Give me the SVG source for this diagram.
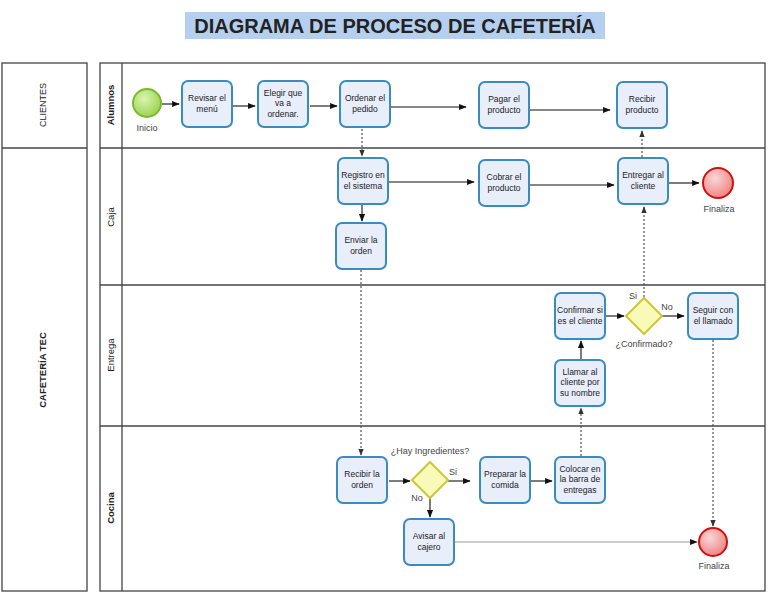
<svg xmlns="http://www.w3.org/2000/svg" width="768" height="601" viewBox="0 0 768 601">
<style>
text{font-family:"Liberation Sans",Arial,sans-serif;fill:#222}
.t rect{fill:#e9eefb;stroke:#3a8cc0;stroke-width:2}
.t text{font-size:8.5px;text-anchor:middle}
.lane{fill:none;stroke:#444;stroke-width:1.3}
.ll{font-size:9.5px;font-weight:bold;text-anchor:middle}
.c{fill:none;stroke:#111;stroke-width:1.1}
.d{fill:none;stroke:#444;stroke-width:1.1;stroke-dasharray:2,2}
.lbl{font-size:9px;text-anchor:middle;fill:#444}
.gw{fill:#fafab8;stroke:#c8c83a;stroke-width:2}
</style>
<defs>
<marker id="a" viewBox="0 0 10 10" refX="9" refY="5" markerWidth="7" markerHeight="7" orient="auto"><path d="M0,1 L10,5 L0,9 z" fill="#111"/></marker>
<marker id="b" viewBox="0 0 10 10" refX="9" refY="5" markerWidth="6" markerHeight="6" orient="auto"><path d="M0,1 L10,5 L0,9 z" fill="#333"/></marker>
<radialGradient id="gs" cx="0.4" cy="0.35" r="0.7"><stop offset="0" stop-color="#d8f5b0"/><stop offset="1" stop-color="#9ad04a"/></radialGradient>
<radialGradient id="ge" cx="0.4" cy="0.35" r="0.7"><stop offset="0" stop-color="#fbd6d6"/><stop offset="1" stop-color="#ee8080"/></radialGradient>
</defs>
<rect x="185" y="12" width="420" height="27" fill="#b4cff0"/>
<text x="395" y="33" font-size="20" font-weight="bold" text-anchor="middle" fill="#1f2a44">DIAGRAMA DE PROCESO DE CAFETERÍA</text>
<g id="pools">
<rect class="lane" x="2" y="63" width="85" height="528"/>
<line class="lane" x1="2" y1="148" x2="87" y2="148"/>
<text class="lbl" style="font-weight:normal;fill:#222" transform="translate(46,105) rotate(-90)" font-size="10">CLIENTES</text>
<text class="ll" transform="translate(46,370) rotate(-90)">CAFETERÍA TEC</text>
<rect class="lane" x="100" y="63" width="665" height="528"/>
<line class="lane" x1="122" y1="63" x2="122" y2="591"/>
<line class="lane" x1="100" y1="148" x2="765" y2="148"/>
<line class="lane" x1="100" y1="285" x2="765" y2="285"/>
<line class="lane" x1="100" y1="426" x2="765" y2="426"/>
<text class="ll" transform="translate(114,105) rotate(-90)">Alumnos</text>
<text class="ll" style="font-weight:normal" transform="translate(114,217) rotate(-90)">Caja</text>
<text class="ll" style="font-weight:normal" transform="translate(114,355) rotate(-90)">Entrega</text>
<text class="ll" transform="translate(114,508) rotate(-90)">Cocina</text>
</g>
<g id="connectors">
<line class="c" x1="162" y1="104" x2="179" y2="104" marker-end="url(#a)"/>
<line class="c" x1="233" y1="106" x2="255" y2="106" marker-end="url(#a)"/>
<line class="c" x1="310" y1="106" x2="337" y2="106" marker-end="url(#a)"/>
<line class="c" x1="391" y1="107" x2="466" y2="107" marker-end="url(#a)"/>
<line class="c" x1="530" y1="110" x2="610" y2="110" marker-end="url(#a)"/>
<line class="d" x1="362" y1="129" x2="362" y2="156" marker-end="url(#b)"/>
<line class="c" x1="389" y1="182" x2="474" y2="182" marker-end="url(#a)"/>
<line class="c" x1="362" y1="205" x2="362" y2="221" marker-end="url(#a)"/>
<line class="c" x1="530" y1="185" x2="614" y2="185" marker-end="url(#a)"/>
<line class="c" x1="669" y1="183" x2="699" y2="183" marker-end="url(#a)"/>
<line class="d" x1="642" y1="157" x2="642" y2="131" marker-end="url(#b)"/>
<line class="d" x1="644" y1="297" x2="644" y2="207" marker-end="url(#b)"/>
<line class="d" x1="361" y1="270" x2="361" y2="455" marker-end="url(#b)"/>
<line class="c" x1="389" y1="481" x2="410" y2="481" marker-end="url(#a)"/>
<line class="c" x1="448" y1="481" x2="470" y2="481" marker-end="url(#a)"/>
<line class="c" x1="430" y1="498" x2="430" y2="517" marker-end="url(#a)"/>
<line class="c" x1="531" y1="481" x2="552" y2="481" marker-end="url(#a)"/>
<line class="d" x1="581" y1="456" x2="581" y2="408" marker-end="url(#b)"/>
<line class="c" x1="581" y1="359" x2="581" y2="341" marker-end="url(#a)"/>
<line class="c" x1="606" y1="316" x2="624" y2="316" marker-end="url(#a)"/>
<line class="c" x1="662" y1="316" x2="684" y2="316" marker-end="url(#a)"/>
<line class="d" x1="713" y1="340" x2="713" y2="526" marker-end="url(#b)"/>
<line x1="455" y1="542" x2="697" y2="542" stroke="#999" stroke-width="1.1" marker-end="url(#a)"/>
</g>
<g id="inicio"><circle cx="147" cy="103" r="14" fill="url(#gs)" stroke="#7cb82f" stroke-width="2"/><text class="lbl" x="147" y="131">Inicio</text></g>
<g id="fin1"><circle cx="718" cy="183" r="15" fill="url(#ge)" stroke="#d01010" stroke-width="2"/><text class="lbl" x="719" y="212">Finaliza</text></g>
<g id="fin2"><circle cx="713" cy="542" r="14" fill="url(#ge)" stroke="#d01010" stroke-width="2"/><text class="lbl" x="714" y="569">Finaliza</text></g>
<g id="revisar" class="t"><rect x="182" y="81" width="50" height="46" rx="6"/><text x="207" y="101">Revisar el</text><text x="207" y="112">menú</text></g>
<g id="elegir" class="t"><rect x="258" y="81" width="50" height="46" rx="6"/><text x="283" y="96">Elegir que</text><text x="283" y="106">va a</text><text x="283" y="117">ordenar.</text></g>
<g id="ordenar" class="t"><rect x="340" y="81" width="50" height="46" rx="6"/><text x="365" y="101">Ordenar el</text><text x="365" y="112">pedido</text></g>
<g id="pagar" class="t"><rect x="479" y="82" width="50" height="46" rx="6"/><text x="504" y="102">Pagar el</text><text x="504" y="113">producto</text></g>
<g id="recibirp" class="t"><rect x="617" y="82" width="50" height="46" rx="6"/><text x="642" y="102">Recibir</text><text x="642" y="113">producto</text></g>
<g id="registro" class="t"><rect x="338" y="158" width="50" height="46" rx="6"/><text x="363" y="178">Registro en</text><text x="363" y="189">el sistema</text></g>
<g id="enviar" class="t"><rect x="336" y="223" width="50" height="46" rx="6"/><text x="361" y="243">Enviar la</text><text x="361" y="254">orden</text></g>
<g id="cobrar" class="t"><rect x="479" y="160" width="50" height="46" rx="6"/><text x="504" y="180">Cobrar el</text><text x="504" y="191">producto</text></g>
<g id="entregar" class="t"><rect x="618" y="158" width="50" height="46" rx="6"/><text x="643" y="178">Entregar al</text><text x="643" y="189">cliente</text></g>
<g id="confirmar" class="t"><rect x="555" y="293" width="50" height="46" rx="6"/><text x="580" y="313">Confirmar si</text><text x="580" y="324">es el cliente</text></g>
<g id="seguir" class="t"><rect x="688" y="293" width="50" height="46" rx="6"/><text x="713" y="313">Seguir con</text><text x="713" y="324">el llamado</text></g>
<g id="llamar" class="t"><rect x="555" y="360" width="50" height="46" rx="6"/><text x="580" y="375">Llamar al</text><text x="580" y="385">cliente por</text><text x="580" y="396">su nombre</text></g>
<g id="recibiro" class="t"><rect x="337" y="457" width="50" height="46" rx="6"/><text x="362" y="477">Recibir la</text><text x="362" y="488">orden</text></g>
<g id="preparar" class="t"><rect x="480" y="457" width="50" height="46" rx="6"/><text x="505" y="477">Preparar la</text><text x="505" y="488">comida</text></g>
<g id="colocar" class="t"><rect x="555" y="457" width="50" height="46" rx="6"/><text x="580" y="472">Colocar en</text><text x="580" y="482">la barra de</text><text x="580" y="493">entregas</text></g>
<g id="avisar" class="t"><rect x="404" y="519" width="50" height="46" rx="6"/><text x="429" y="539">Avisar al</text><text x="429" y="550">cajero</text></g>
<g id="gwconf"><path class="gw" d="M644,298 L662,316 L644,334 L626,316 Z"/><text class="lbl" x="633" y="299">Si</text><text class="lbl" x="667" y="310">No</text><text class="lbl" x="644" y="347">¿Confirmado?</text></g>
<g id="gwingr"><path class="gw" d="M430,462 L448,480 L430,498 L412,480 Z"/><text class="lbl" x="430" y="454">¿Hay Ingredientes?</text><text class="lbl" x="453" y="475">Si</text><text class="lbl" x="417" y="501">No</text></g>
</svg>
